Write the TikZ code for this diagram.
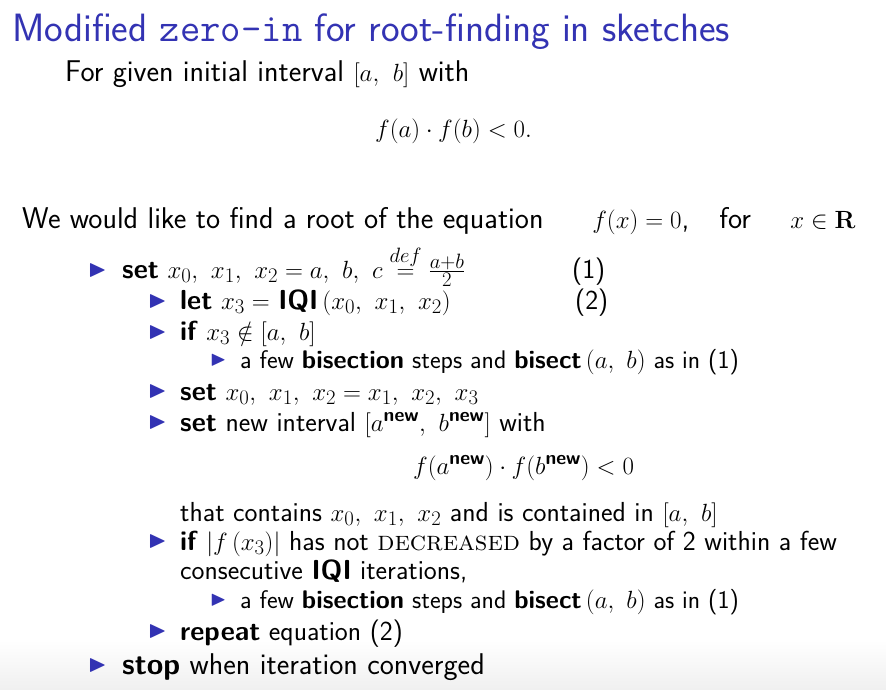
\documentclass[tikz,border=0pt]{standalone}
\usepackage{amsmath,amssymb}
\definecolor{bblue}{RGB}{51,51,179}
\tikzset{
 t/.style={anchor=base west,inner sep=0pt,font=\sffamily\fontsize{30}{34}\selectfont},
 t2/.style={t,font=\sffamily\fontsize{27.5}{32}\selectfont},
 t3/.style={t,font=\sffamily\fontsize{25.5}{30}\selectfont},
 bul/.style={anchor=base west,inner sep=0pt,text=bblue,font=\fontsize{24}{26}\selectfont},
 bul3/.style={bul,font=\fontsize{21}{24}\selectfont},
}
\newcommand{\bt}{$\blacktriangleright$}
\newcommand{\nw}{\text{\bfseries new}}
\begin{document}
\begin{tikzpicture}[x=1pt,y=-1pt]
\useasboundingbox (0,0) rectangle (886,690);
\fill[white] (0,0) rectangle (886,690);
\shade[top color=white,bottom color=black!6] (0,640) rectangle (886,690);
\node[anchor=base west,inner sep=0pt,text=bblue,font=\sffamily\fontsize{39.5}{44}\selectfont] (title) at (12,42) {Modified \texttt{zero-in} for root-finding in sketches};
\node[t] (given) at (65,82) {For given initial interval $[a,\ b]$ with};
\node[t] (cond) at (375,138) {$f(a)\cdot f(b)<0.$};
\node[t] (would) at (22,228) {We would like to find a root of the equation\quad\ \ $f(x)=0$,\quad for\quad\ $x\in\mathbf{R}$};
\node[bul] (b1) at (88,276) {\bt};
\node[t2] (l1) at (122,278) {\textbf{set} $x_0,\ x_1,\ x_2=a,\ b,\ c\stackrel{def}{=}\frac{a+b}{2}$};
\node[t2] (e1) at (572,278) {(1)};
\node[bul] (b2) at (148,307) {\bt};
\node[t2] (l2) at (180,309) {\textbf{let} $x_3=$ \textbf{IQI}$\,(x_0,\ x_1,\ x_2)$};
\node[t2] (e2) at (575,309) {(2)};
\node[bul] (b3) at (148,338) {\bt};
\node[t2] (l3) at (180,340) {\textbf{if} $x_3\notin[a,\ b]$};
\node[bul3] (b4) at (210,365) {\bt};
\node[t3] (l4) at (240,368) {a few \textbf{bisection} steps and \textbf{bisect}$\,(a,\ b)$ as in (1)};
\node[bul] (b5) at (148,397) {\bt};
\node[t2] (l5) at (180,400) {\textbf{set} $x_0,\ x_1,\ x_2=x_1,\ x_2,\ x_3$};
\node[bul] (b6) at (148,428) {\bt};
\node[t2] (l6) at (180,431) {\textbf{set} new interval $[a^{\nw},\ b^{\nw}]$ with};
\node[t2] (l7) at (413,474) {$f(a^{\nw})\cdot f(b^{\nw})<0$};
\node[t2] (l8) at (180,521) {that contains $x_0,\ x_1,\ x_2$ and is contained in $[a,\ b]$};
\node[bul] (b9) at (148,547) {\bt};
\node[t2] (l9) at (180,550) {\textbf{if} $|f\,(x_3)|$ has not {\rmfamily\textsc{decreased}} by a factor of 2 within a few};
\node[t2] (l10) at (180,579) {consecutive \textbf{IQI} iterations,};
\node[bul3] (b11) at (210,605) {\bt};
\node[t3] (l11) at (240,608) {a few \textbf{bisection} steps and \textbf{bisect}$\,(a,\ b)$ as in (1)};
\node[bul] (b12) at (148,637) {\bt};
\node[t2] (l12) at (180,640) {\textbf{repeat} equation (2)};
\node[bul] (b13) at (88,671) {\bt};
\node[t] (l13) at (122,674) {\textbf{stop} when iteration converged};
\end{tikzpicture}
\end{document}
